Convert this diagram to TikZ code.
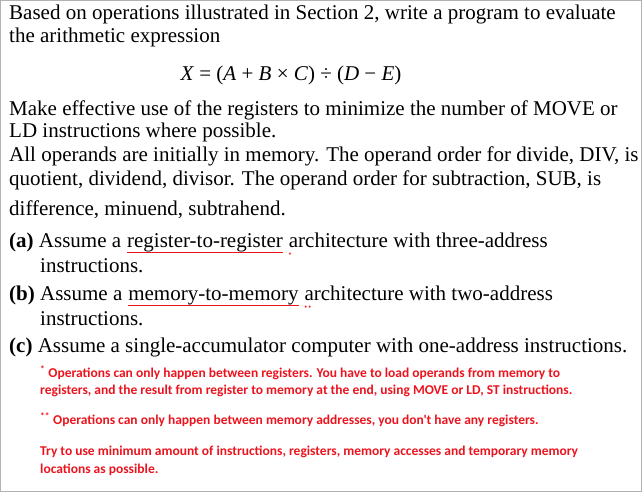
\documentclass[tikz,border=0pt]{standalone}
\usepackage{fontspec}
\setmainfont{Liberation Serif}
\newfontfamily\redfont{Carlito}
\definecolor{redtxt}{RGB}{235,20,30}
\tikzset{
  txt/.style={anchor=west,inner sep=0pt,font=\fontsize{21}{23}\selectfont},
  note/.style={anchor=west,inner sep=0pt,text=redtxt,font=\redfont\bfseries\fontsize{13.5}{15}\selectfont},
  uline/.style={draw=redtxt,line width=1.4pt},
  star/.style={inner sep=0pt,text=redtxt,font=\redfont\bfseries\fontsize{8}{9}\selectfont}
}
\newcommand\redul[2]{\tikz[baseline=(u.base)]{\node[inner sep=0pt,outer sep=0pt](u){#1};
  \draw[uline]([yshift=-1pt]u.south west)--([yshift=-1pt]u.south east);
  \node[star,overlay,anchor=north west] (st) at ([xshift=5pt,yshift=-1pt]u.south east) {#2};}}
\begin{document}
\begin{tikzpicture}[x=1pt,y=-1pt]
\useasboundingbox (0,0) rectangle (642,492);
\draw[gray!60] (0.5,0.5) rectangle (641.5,491.5);
\node[txt] (l1) at (9,14) {Based on operations illustrated in Section 2, write a program to evaluate};
\node[txt] (l2) at (9,37) {the arithmetic expression};
\node[txt,anchor=center] (eq) at (291,75) {\textit{X} = (\textit{A} + \textit{B} × \textit{C}) ÷ (\textit{D} − \textit{E})};
\node[txt] (l3) at (9,110) {Make effective use of the registers to minimize the number of MOVE or};
\node[txt] (l4) at (9,132) {LD instructions where possible.};
\node[txt] (l5) at (9,156) {All operands are initially in memory. The operand order for divide, DIV, is};
\node[txt] (l6) at (9,180) {quotient, dividend, divisor. The operand order for subtraction, SUB, is};
\node[txt] (l7) at (9,210) {difference, minuend, subtrahend.};
\node[txt] (a1) at (9,243) {\textbf{(a)} Assume a \redul{register-to-register}{*} architecture with three-address};
\node[txt] (a2) at (40,266) {instructions.};
\node[txt] (b1) at (9,296) {\textbf{(b)} Assume a \redul{memory-to-memory}{**} architecture with two-address};
\node[txt] (b2) at (40,319) {instructions.};
\node[txt] (c1) at (9,347) {\textbf{(c)} Assume a single-accumulator computer with one-address instructions.};
\node[note] (n1) at (40,373) {\textsuperscript{*} Operations can only happen between registers. You have to load operands from memory to};
\node[note] (n2) at (40,391) {registers, and the result from register to memory at the end, using MOVE or LD, ST instructions.};
\node[note] (n3) at (40,420) {\textsuperscript{**} Operations can only happen between memory addresses, you don't have any registers.};
\node[note] (n4) at (40,452) {Try to use minimum amount of instructions, registers, memory accesses and temporary memory};
\node[note] (n5) at (40,470) {locations as possible.};
\end{tikzpicture}
\end{document}
